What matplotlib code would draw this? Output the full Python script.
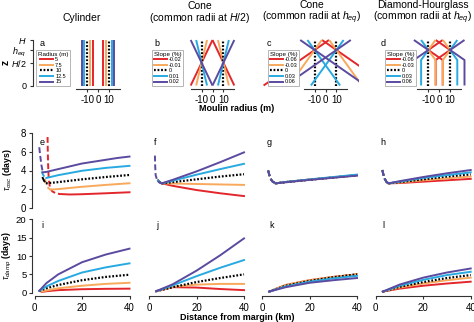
import numpy as np
import matplotlib
matplotlib.use('Agg')
import matplotlib.pyplot as plt

plt.rcParams['font.family'] = ['Liberation Sans', 'DejaVu Sans']
plt.rcParams['mathtext.fontset'] = 'custom'
plt.rcParams['mathtext.rm'] = 'Liberation Sans'
plt.rcParams['mathtext.it'] = 'Liberation Sans:italic'
plt.rcParams['axes.unicode_minus'] = False

# ---- data ----
colors = ['#e3262b', '#f8a95c', 'black', '#27aae1', '#5b4a9f']
H_ice = 1000.0
h_eq = 780.0
radii = [5, 7.5, 10, 12.5, 15]
slopes_b = [-0.02, -0.01, 0, 0.01, 0.02]
slopes_c = [-0.06, -0.03, 0, 0.03, 0.06]
labels_a = ['5', '7.5', '10', '12.5', '15']
labels_b = ['-0.02', '-0.01', '0', '0.01', '0.02']
labels_c = ['-0.06', '-0.03', '0', '0.03', '0.06']

# tau_osc, dashed part then solid part, per colour (red, orange, black, cyan, purple)
osc_e_dash_x = [[5.5, 5.6, 5.75, 6.0, 6.5, 7.5, 9.0, 10.7], [4.3, 5.0, 5.8, 6.8],
                [3.3, 4.0, 4.8], [3.0, 3.5, 4.2, 5.0], [2.0, 2.4, 2.9, 3.5]]
osc_e_dash_y = [[7.6, 6.0, 4.5, 3.0, 2.2, 1.75, 1.55, 1.47], [3.1, 2.6, 2.1, 1.95],
                [3.3, 2.9, 2.65], [3.9, 3.6, 3.3, 3.2], [6.5, 5.6, 4.6, 3.8]]
osc_e_x = [[10.7, 15, 20, 30, 40], [6.8, 10, 20, 30, 40], [4.8, 10, 20, 30, 40],
           [5, 10, 20, 30, 40], [3.5, 5, 10, 15, 20, 25, 30, 35, 40]]
osc_e_y = [[1.47, 1.42, 1.45, 1.55, 1.66], [1.95, 2.0, 2.25, 2.45, 2.63],
           [2.62, 2.75, 3.05, 3.3, 3.52], [3.2, 3.5, 3.97, 4.28, 4.5],
           [3.8, 3.85, 4.15, 4.45, 4.75, 4.95, 5.15, 5.35, 5.5]]

osc_f_dash_x = [[3.6, 4.4, 5.4]] * 4 + [[2.5, 2.6, 2.8, 3.5, 4.5, 5.4]]
osc_f_dash_y = [[3.0, 2.75, 2.62]] * 4 + [[5.6, 4.5, 3.5, 2.9, 2.7, 2.62]]
osc_f_x = [5.4, 10, 20, 30, 40]
osc_f_y = [[2.62, 2.35, 1.9, 1.55, 1.25], [2.62, 2.6, 2.55, 2.5, 2.45],
           [2.62, 2.75, 3.05, 3.35, 3.6], [2.62, 2.9, 3.55, 4.15, 4.72],
           [2.62, 3.0, 3.9, 4.9, 5.95]]

osc_g_dash_x = [2.6, 3.0, 3.6, 4.5, 5.8]
osc_g_dash_y = [4.0, 3.6, 3.1, 2.8, 2.62]
osc_g_x = [5.8, 10, 20, 30, 40]
osc_g_y = [[2.62, 2.76, 3.02, 3.26, 3.49], [2.62, 2.76, 3.03, 3.27, 3.5],
           [2.62, 2.75, 3.0, 3.25, 3.5], [2.62, 2.77, 3.04, 3.3, 3.56],
           [2.62, 2.74, 2.99, 3.22, 3.45]]

osc_h_dash_x = [2.8, 3.2, 3.8, 4.6, 5.5]
osc_h_dash_y = [4.05, 3.6, 3.1, 2.75, 2.62]
osc_h_x = [5.5, 10, 20, 30, 40]
osc_h_y = [[2.62, 2.65, 2.8, 2.95, 3.1], [2.62, 2.7, 2.95, 3.15, 3.35],
           [2.62, 2.75, 3.05, 3.35, 3.58], [2.62, 2.8, 3.2, 3.5, 3.8],
           [2.62, 2.85, 3.3, 3.7, 4.05]]

# tau_damp
damp_i_x = [[3, 5, 10, 20, 30, 40], [3, 5, 10, 20, 30, 40], [2, 5, 10, 20, 30, 40],
            [2, 5, 10, 20, 30, 40], [2, 5, 10, 20, 30, 40]]
damp_i_y = [[0.2, 0.4, 0.7, 0.95, 1.05, 1.1], [0.3, 0.6, 1.2, 1.9, 2.4, 2.7],
            [0.5, 1.2, 2.1, 3.4, 4.3, 4.9], [0.5, 1.7, 3.2, 5.5, 6.9, 8.0],
            [0.5, 2.6, 5.0, 8.3, 10.4, 12.0]]
damp_j_x = [3, 10, 20, 30, 40]
damp_j_y = [[0.4, 1.5, 1.4, 1.0, 0.7], [0.4, 1.6, 2.2, 2.4, 2.4],
            [0.4, 1.5, 2.9, 4.0, 5.0], [0.4, 2.0, 4.5, 6.8, 8.9],
            [0.4, 2.3, 6.0, 10.2, 14.8]]
damp_k_x = [3, 10, 20, 30, 40]
damp_k_y = [[0.3, 2.1, 3.4, 4.3, 5.0], [0.3, 2.1, 3.4, 4.3, 5.0],
            [0.3, 1.9, 3.2, 4.2, 5.0], [0.3, 1.7, 3.0, 3.9, 4.6],
            [0.3, 1.5, 2.7, 3.4, 4.0]]
damp_l_x = [3, 10, 20, 30, 40]
damp_l_y = [[0.3, 1.1, 1.9, 2.5, 3.0], [0.3, 1.4, 2.5, 3.4, 4.1],
            [0.3, 1.6, 2.9, 4.0, 4.8], [0.3, 1.9, 3.5, 4.8, 5.7],
            [0.3, 2.2, 4.1, 5.5, 6.6]]

W, HP = 474, 322
fig = plt.figure(figsize=(W / 100, HP / 100), dpi=100)


def px_axes(x0, y0, x1, y1):
    return fig.add_axes([x0 / W, 1 - y1 / HP, (x1 - x0) / W, (y1 - y0) / HP])


def clean(ax):
    for s in ['top', 'right', 'left', 'bottom']:
        ax.spines[s].set_visible(False)
    ax.set_xticks([])
    ax.set_yticks([])
    ax.patch.set_alpha(0)


def style(i):
    if i == 2:
        return dict(color='black', linestyle=(0, (0.8, 0.8)), lw=1.6)
    return dict(color=colors[i], linestyle='-', lw=1.4)


cols = [34.5, 149, 262, 375.7]
spine_col = '#333333'

# ---- top row: shapes ----
zs = 0.0455
letters_top = ['a', 'b', 'c', 'd']
for k, c in enumerate(cols):
    x0, x1 = c - 2, c + 97
    ax = px_axes(x0, 38, x1, 88.5)
    zero = c + 63.5
    sc = 1.09
    ax.set_xlim((x0 - zero) / sc, (x1 - zero) / sc)
    ax.set_ylim(-(88.5 - 85.5) / zs, (85.5 - 38) / zs)
    clean(ax)
    for i in range(5):
        st = style(i)
        if k == 0:
            r = radii[i]
            z = np.array([0, H_ice])
            rr = np.array([r, r])
        elif k == 1:
            z = np.array([0, H_ice])
            rr = 10 + slopes_b[i] * (z - H_ice / 2)
        elif k == 2:
            z = np.array([0, H_ice])
            rr = 10 + slopes_c[i] * (z - h_eq)
        else:
            z = np.array([0, 2 * h_eq - H_ice, h_eq, H_ice])
            rr = 10 + slopes_c[i] * np.abs(np.clip(z, 2 * h_eq - H_ice, None) - h_eq)
        ax.plot(-rr, z, **st, solid_capstyle='butt')
        ax.plot(rr, z, **st, solid_capstyle='butt')
    ax.spines['bottom'].set_visible(True)
    ax.spines['bottom'].set_bounds(-20, 20)
    ax.spines['bottom'].set_color(spine_col)
    ax.set_xticks([-10, 0, 10])
    ax.set_xticklabels(['-10', '0', '10'], fontsize=7)
    ax.tick_params(axis='x', length=2.5, width=0.8, pad=2.5, color=spine_col)
    if k == 0:
        ax.spines['left'].set_visible(True)
        ax.spines['left'].set_bounds(0, H_ice)
        ax.spines['left'].set_color(spine_col)
        ax.set_yticks([0, H_ice / 2, h_eq, H_ice])
        ax.set_yticklabels(['0', '$H/2$', '$h_{eq}$', '$H$'], fontsize=6.5)
        ax.tick_params(axis='y', length=2.5, width=0.8, pad=2, color=spine_col)
    fig.text((c + 5) / W, 1 - 43 / HP, letters_top[k], fontsize=6.5, va='center')
    handles = [plt.Line2D([], [], **style(i)) for i in range(5)]
    labs = [labels_a, labels_b, labels_c, labels_c][k]
    title = 'Radius (m)' if k == 0 else 'Slope (%)'
    lx = [36, 152, 268, 385][k]
    leg = ax.legend(handles, labs, title=title, loc='upper left',
                    bbox_to_anchor=(lx / W, 1 - 50 / HP), bbox_transform=fig.transFigure,
                    fontsize=4, title_fontsize=4.5, handlelength=2.4, handletextpad=0.3,
                    labelspacing=0.1, borderpad=0.3, fancybox=False, framealpha=1,
                    edgecolor='#aaaaaa', borderaxespad=0)
    leg.get_frame().set_linewidth(0.6)

# ---- middle row: tau_osc ----
letters_mid = ['e', 'f', 'g', 'h']
for k, c in enumerate(cols):
    ax = px_axes(c - 2.5, 131, c + 97, 210)
    ax.set_xlim(-2.5 / 2.375, 97 / 2.375)
    ax.set_ylim(-(210 - 207.7) / 9.3, (207.7 - 131) / 9.3)
    clean(ax)
    for i in range(5):
        st = style(i)
        dash_st = dict(color=colors[i], lw=1.4, linestyle=(0, (3, 1.5)))
        if k == 0:
            ax.plot(osc_e_dash_x[i], osc_e_dash_y[i], **dash_st)
            ax.plot(osc_e_x[i], osc_e_y[i], **st)
        elif k == 1:
            ax.plot(osc_f_dash_x[i], osc_f_dash_y[i], **dash_st)
            ax.plot(osc_f_x, osc_f_y[i], **st)
        elif k == 2:
            ax.plot(osc_g_dash_x, osc_g_dash_y, **dash_st)
            ax.plot(osc_g_x, osc_g_y[i], **st)
        else:
            ax.plot(osc_h_dash_x, osc_h_dash_y, **dash_st)
            ax.plot(osc_h_x, osc_h_y[i], **st)
    if k == 0:
        ax.spines['left'].set_visible(True)
        ax.spines['left'].set_bounds(0, 8)
        ax.spines['left'].set_color(spine_col)
        ax.set_yticks([0, 2, 4, 6, 8])
        ax.set_yticklabels(['0', '2', '4', '6', '8'], fontsize=7)
        ax.tick_params(axis='y', length=2.5, width=0.8, pad=2, color=spine_col)
    fig.text((c + 5) / W, 1 - 142 / HP, letters_mid[k], fontsize=6.5, va='center')

# ---- bottom row: tau_damp ----
letters_bot = ['i', 'j', 'k', 'l']
damp_sets = [(damp_i_x, damp_i_y), (damp_j_x, damp_j_y),
             (damp_k_x, damp_k_y), (damp_l_x, damp_l_y)]
for k, c in enumerate(cols):
    ax = px_axes(c - 2.5, 217, c + 97, 296)
    ax.set_xlim(-2.5 / 2.375, 97 / 2.375)
    ax.set_ylim(-(296 - 292.7) / 3.67, (292.7 - 217) / 3.67)
    clean(ax)
    dx, dy = damp_sets[k]
    for i in range(5):
        xs = dx[i] if k == 0 else dx
        ax.plot(xs, dy[i], **style(i))
    ax.spines['bottom'].set_visible(True)
    ax.spines['bottom'].set_bounds(0, 40)
    ax.spines['bottom'].set_color(spine_col)
    ax.set_xticks([0, 20, 40])
    ax.set_xticklabels(['0', '20', '40'], fontsize=7)
    ax.tick_params(axis='x', length=2.5, width=0.8, pad=2.5, color=spine_col)
    if k == 0:
        ax.spines['left'].set_visible(True)
        ax.spines['left'].set_bounds(0, 20)
        ax.spines['left'].set_color(spine_col)
        ax.set_yticks([0, 5, 10, 15, 20])
        ax.set_yticklabels(['0', '5', '10', '15', '20'], fontsize=6.8)
        ax.tick_params(axis='y', length=2.5, width=0.8, pad=1.5, color=spine_col)
    fig.text((c + 7) / W, 1 - 225 / HP, letters_bot[k], fontsize=6.5, va='center')

# ---- titles and axis labels ----
fig.text(82 / W, 1 - 18 / HP, 'Cylinder', fontsize=7.5, ha='center', va='center')
fig.text(200 / W, 1 - 13 / HP, 'Cone\n(common radii at $H/2$)', fontsize=7.5,
         ha='center', va='center', linespacing=1.0)
fig.text(312 / W, 1 - 13 / HP, 'Cone\n(common radii at $h_{eq}$)', fontsize=7.5,
         ha='center', va='center', linespacing=1.0)
fig.text(423 / W, 1 - 13 / HP, 'Diamond-Hourglass\n(common radii at $h_{eq}$)', fontsize=7.5,
         ha='center', va='center', linespacing=1.0)
fig.text(6 / W, 1 - 62 / HP, 'z', fontsize=7.5, fontweight='bold', rotation=90,
         ha='center', va='center')
fig.text(237 / W, 1 - 108.5 / HP, 'Moulin radius (m)', fontsize=6.5, fontweight='bold',
         ha='center', va='center')
fig.text(8 / W, 1 - 170 / HP, r'$\tau_{osc}$ (days)', fontsize=6.3, fontweight='bold',
         rotation=90, ha='center', va='center')
fig.text(7.5 / W, 1 - 256 / HP, r'$\tau_{damp}$ (days)', fontsize=6.3, fontweight='bold',
         rotation=90, ha='center', va='center')
fig.text(237 / W, 1 - 318 / HP, 'Distance from margin (km)', fontsize=6.5,
         fontweight='bold', ha='center', va='center')

fig.savefig('out.png', dpi=100)
